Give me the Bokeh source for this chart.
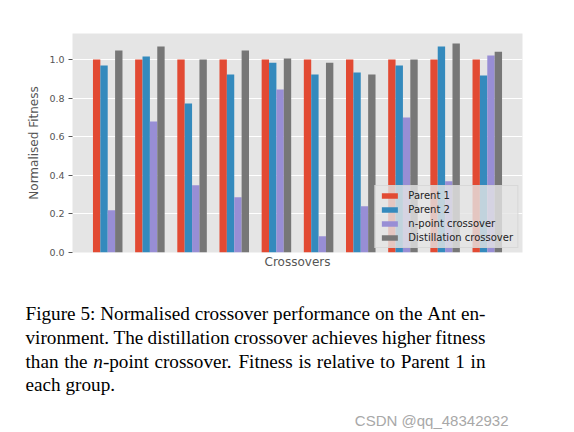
from bokeh.plotting import figure
from bokeh.layouts import column, row
from bokeh.models import Range1d, FixedTicker, Label, PrintfTickFormatter, ColumnDataSource
from bokeh.transform import dodge
from bokeh.embed import file_html
from bokeh.resources import INLINE

# values (fitness relative to Parent 1)
groups = [0, 1, 2, 3, 4, 5, 6, 7, 8, 9]
parent_1 = [1.0, 1.0, 1.0, 1.0, 1.0, 1.0, 1.0, 1.0, 1.0, 1.0]
parent_2 = [0.969, 1.016, 0.772, 0.922, 0.984, 0.922, 0.933, 0.969, 1.067, 0.917]
n_point = [0.219, 0.679, 0.348, 0.286, 0.845, 0.084, 0.240, 0.700, 0.369, 1.021]
distillation = [1.047, 1.067, 1.000, 1.047, 1.005, 0.984, 0.922, 1.000, 1.083, 1.041]
series_names = ["Parent 1", "Parent 2", "n-point crossover", "Distillation crossover"]
y_ticks = [0.0, 0.2, 0.4, 0.6, 0.8, 1.0]

caption_lines = [
    "Figure 5: Normalised crossover performance on the Ant en-",
    "vironment. The distillation crossover achieves higher fitness",
    "than the _n_-point crossover. Fitness is relative to Parent 1 in",
    "each group.",
]
watermark = "CSDN @qq_48342932"

colors = ["#E24A33", "#348ABD", "#988ED5", "#777777"]
tick_color = "#555555"

source = ColumnDataSource(data=dict(group=groups, p1=parent_1, p2=parent_2,
                                    npt=n_point, dist=distillation))

W = 574
H_TOP = 275
H_BOT = 432 - H_TOP

p = figure(width=W, height=H_TOP, output_backend="svg", toolbar_location=None,
           x_range=Range1d(-0.835, 9.835), y_range=Range1d(0, 1.135),
           min_border_left=72, min_border_right=52, min_border_top=33,
           min_border_bottom=H_TOP - 252)
p.background_fill_color = "#E5E5E5"
p.border_fill_color = "white"
p.outline_line_color = None

bw = 0.175
offsets = [-1.5 * bw, -0.5 * bw, 0.5 * bw, 1.5 * bw]
for col, off, c, name in zip(["p1", "p2", "npt", "dist"], offsets, colors, series_names):
    p.vbar(x=dodge("group", off), top=col, width=bw, source=source,
           fill_color=c, line_color=None, legend_label=name)

# axes
p.xaxis.ticker = FixedTicker(ticks=[])
p.xaxis.axis_line_color = None
p.xaxis.major_tick_line_color = None
p.xaxis.minor_tick_line_color = None
p.xaxis.major_label_text_font_size = "0px"
p.xaxis.major_label_standoff = 0
p.xaxis.axis_label = "Crossovers"
p.xaxis.axis_label_standoff = 2

p.yaxis.ticker = FixedTicker(ticks=y_ticks)
p.yaxis.formatter = PrintfTickFormatter(format="%.1f")
p.yaxis.axis_line_color = None
p.yaxis.major_tick_line_color = tick_color
p.yaxis.major_tick_out = 4
p.yaxis.major_tick_in = 0
p.yaxis.minor_tick_line_color = None
p.yaxis.major_label_standoff = 4
p.yaxis.axis_label = "Normalised Fitness"
p.yaxis.axis_label_standoff = 5

for ax in (p.xaxis, p.yaxis):
    ax.axis_label_text_font = "DejaVu Sans"
    ax.axis_label_text_font_size = "12px"
    ax.axis_label_text_font_style = "normal"
    ax.axis_label_text_color = tick_color
    ax.major_label_text_font = "DejaVu Sans"
    ax.major_label_text_color = tick_color
p.yaxis.major_label_text_font_size = "9.5px"

p.xgrid.visible = False
p.ygrid.grid_line_color = "white"
p.ygrid.grid_line_width = 1

leg = p.legend[0]
leg.location = "bottom_right"
leg.margin = 4
leg.padding = 4
leg.spacing = 3
leg.glyph_width = 20
leg.glyph_height = 7
leg.label_height = 11
leg.label_standoff = 9
leg.label_text_font = "DejaVu Sans"
leg.label_text_font_size = "10px"
leg.label_text_color = "#222222"
leg.background_fill_color = "#E5E5E5"
leg.background_fill_alpha = 0.8
leg.border_line_color = "#CCCCCC"
leg.border_line_width = 1

# caption panel: data units equal page pixels (y grows downward)
c = figure(width=W, height=H_BOT, output_backend="svg", toolbar_location=None,
           x_range=Range1d(0, W), y_range=Range1d(432, H_TOP),
           x_axis_location=None, y_axis_location=None,
           min_border_left=0, min_border_right=0, min_border_top=0, min_border_bottom=0)
c.grid.visible = False
c.outline_line_color = None
c.background_fill_color = "white"
c.border_fill_color = "white"

# caption justified by hand with Times metrics (Liberation Serif)
TIMES = {" ": 250, ".": 250, ",": 250, ":": 278, "-": 333,
         "0": 500, "1": 500, "5": 500,
         "A": 722, "F": 556, "N": 722, "P": 556, "T": 611,
         "a": 444, "b": 500, "c": 444, "d": 500, "e": 444, "f": 333, "g": 500,
         "h": 500, "i": 278, "l": 278, "m": 778, "n": 500, "o": 500, "p": 500,
         "r": 333, "s": 389, "t": 278, "u": 500, "v": 500, "y": 500}
cap_size = 19.2
cap_left, cap_right = 25, 485
cap_base = [313, 337, 361, 384]


def seg_width(s):
    return sum(TIMES.get(ch, 500) for ch in s) / 1000.0 * cap_size


def split_word(w):
    parts = w.split("_")
    return [(t, k % 2 == 1) for k, t in enumerate(parts) if t]


for li, line in enumerate(caption_lines):
    words = [split_word(w) for w in line.split(" ")]
    widths = [sum(seg_width(t) for t, _ in segs) for segs in words]
    if li < len(caption_lines) - 1 and len(words) > 1:
        gap = (cap_right - cap_left - sum(widths)) / (len(words) - 1)
    else:
        gap = TIMES[" "] / 1000.0 * cap_size
    x = cap_left
    for segs, wdt in zip(words, widths):
        sx = x
        for t, ital in segs:
            c.add_layout(Label(x=sx, y=cap_base[li], text=t, text_font="Liberation Serif",
                               text_font_size=f"{cap_size}px",
                               text_font_style="italic" if ital else "normal",
                               text_color="black", text_baseline="alphabetic",
                               text_align="left"))
            sx += seg_width(t)
        x += wdt + gap

c.add_layout(Label(x=508, y=420, text=watermark,
                   text_font="Liberation Sans", text_font_size="15px",
                   text_color="#A8A8A8", text_align="right", text_baseline="alphabetic"))

# wrap the caption panel so its frame is not lined up with the chart's frame
layout = column(p, row(c), spacing=0)
open("out.html", "w").write(file_html(layout, INLINE))
